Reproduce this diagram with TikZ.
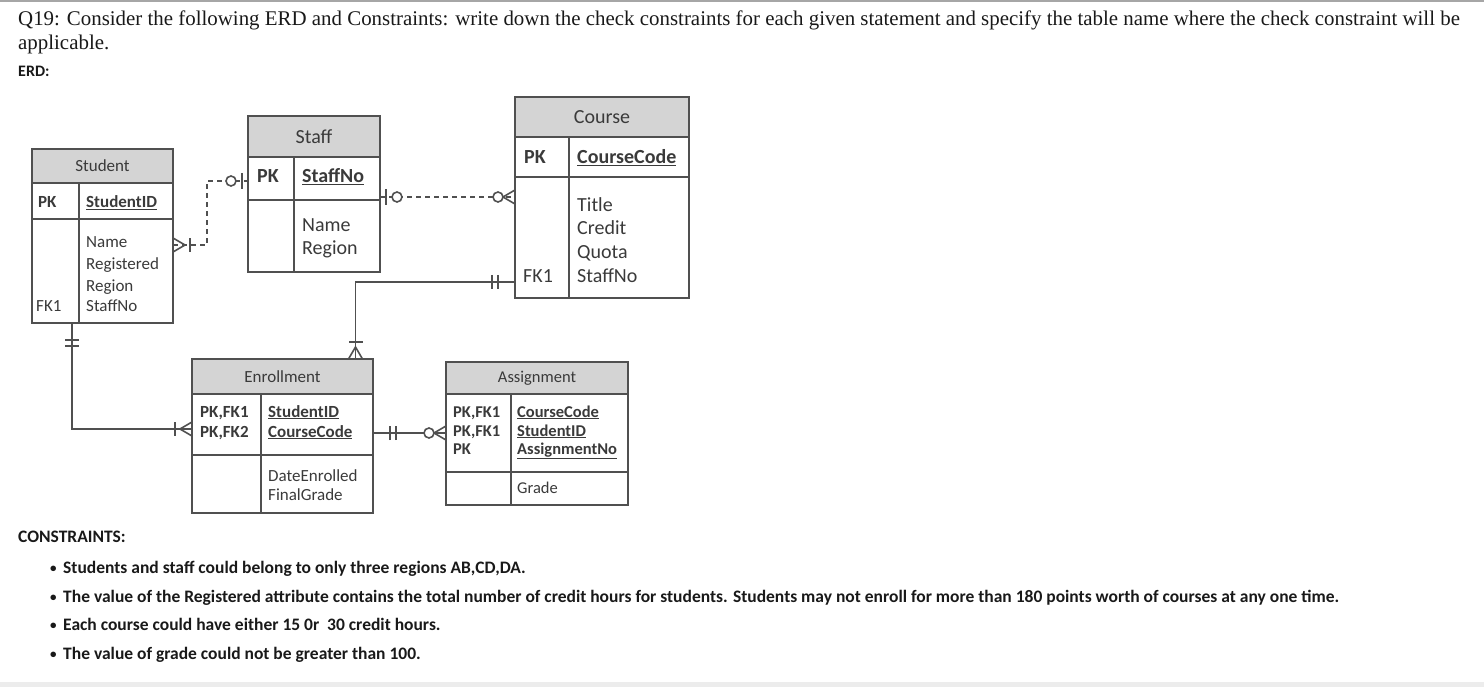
\documentclass[tikz,border=0pt]{standalone}
\usepackage{fontspec}
\setmainfont{Liberation Serif}
\newfontfamily\erdfont{Carlito}
\definecolor{lineg}{HTML}{505050}
\definecolor{hdrg}{HTML}{D4D4D4}
\definecolor{txtg}{HTML}{3A3A3A}
\newcommand\erdsize[1]{\erdfont\fontsize{#1}{#1}\selectfont}
\begin{document}
\begin{tikzpicture}[x=1pt, y=-1pt,
    cell/.style={draw=lineg, line width=1.6pt, inner sep=0pt, outer sep=0pt, anchor=north west},
    hdr/.style={cell, fill=hdrg, text=txtg},
    lbl/.style={anchor=base west, inner sep=0pt, text=txtg},
    txt/.style={anchor=base west, inner sep=0pt, text=black!90},
    conn/.style={draw=lineg, line width=1.6pt},
    dconn/.style={conn, dash pattern=on 5pt off 4pt},
    onemany/.pic={\draw[conn] (0,-7) -- (-12,0) -- (0,7); \draw[conn] (-17,-7) -- (-17,7);},
    zeromany/.pic={\draw[conn] (0,-7) -- (-12,0) -- (0,7); \draw[conn, fill=white] (-17,0) circle (5pt);},
    onlyone/.pic={\draw[conn] (-17,-7) -- (-17,7); \draw[conn] (-23,-7) -- (-23,7);},
    zeroone/.pic={\draw[conn] (-6,-8) -- (-6,8); \draw[conn, fill=white] (-17,0) circle (5pt);}
]
\useasboundingbox (0,0) rectangle (1484,687);
\draw[gray!70, line width=1.5pt] (0,1) -- (1484,1);
\fill[gray!15] (0,682) rectangle (1484,687);

% Question
\node[txt, font=\fontsize{20.9}{25}\selectfont] (q1) at (18,26) {Q19: Consider the following ERD and Constraints: write down the check constraints for each given statement and specify the table name where the check constraint will be};
\node[txt, font=\fontsize{20.9}{25}\selectfont] (q2) at (18,50) {applicable.};
\node[txt, font=\erdsize{16}\bfseries] (erd) at (18,77) {ERD:};

% Student
\node[hdr, minimum width=141pt, minimum height=34pt, font=\erdsize{17}] (student-h) at (32,149) {Student};
\node[cell, minimum width=141pt, minimum height=36pt] (student-pk) at (student-h.south west) {};
\node[cell, minimum width=141pt, minimum height=104pt] (student-at) at (student-pk.south west) {};
\draw[conn] ([xshift=47pt]student-pk.north west) -- ([xshift=47pt]student-at.south west);
\node[lbl, font=\erdsize{17}\bfseries] (student-k1) at (38,208) {PK};
\node[lbl, font=\erdsize{17}\bfseries] (student-a1) at (86,208) {\underline{StudentID}};
\node[lbl, font=\erdsize{17}] (student-a2) at (86,248) {Name};
\node[lbl, font=\erdsize{17}] (student-a3) at (86,270) {Registered};
\node[lbl, font=\erdsize{17}] (student-a4) at (86,291) {Region};
\node[lbl, font=\erdsize{17}] (student-a5) at (86,312) {StaffNo};
\node[lbl, font=\erdsize{17}] (student-k2) at (36,312) {FK1};

% Staff
\node[hdr, minimum width=132pt, minimum height=41pt, font=\erdsize{20}] (staff-h) at (248,116) {Staff};
\node[cell, minimum width=132pt, minimum height=43pt] (staff-pk) at (staff-h.south west) {};
\node[cell, minimum width=132pt, minimum height=72pt] (staff-at) at (staff-pk.south west) {};
\draw[conn] ([xshift=46pt]staff-pk.north west) -- ([xshift=46pt]staff-at.south west);
\node[lbl, font=\erdsize{20}\bfseries] (staff-k1) at (257,183) {PK};
\node[lbl, font=\erdsize{20}\bfseries] (staff-a1) at (302,183) {\underline{StaffNo}};
\node[lbl, font=\erdsize{20}] (staff-a2) at (302,232) {Name};
\node[lbl, font=\erdsize{20}] (staff-a3) at (302,255) {Region};

% Course
\node[hdr, minimum width=174pt, minimum height=40pt, font=\erdsize{20}] (course-h) at (515,97) {Course};
\node[cell, minimum width=174pt, minimum height=40pt] (course-pk) at (course-h.south west) {};
\node[cell, minimum width=174pt, minimum height=121pt] (course-at) at (course-pk.south west) {};
\draw[conn] ([xshift=54pt]course-pk.north west) -- ([xshift=54pt]course-at.south west);
\node[lbl, font=\erdsize{20}\bfseries] (course-k1) at (524,164) {PK};
\node[lbl, font=\erdsize{20}\bfseries] (course-a1) at (577,164) {\underline{CourseCode}};
\node[lbl, font=\erdsize{20}] (course-a2) at (577,212) {Title};
\node[lbl, font=\erdsize{20}] (course-a3) at (577,235) {Credit};
\node[lbl, font=\erdsize{20}] (course-a4) at (577,259) {Quota};
\node[lbl, font=\erdsize{20}] (course-a5) at (577,283) {StaffNo};
\node[lbl, font=\erdsize{20}] (course-k2) at (523,283) {FK1};

% Enrollment
\node[hdr, minimum width=181pt, minimum height=35pt, font=\erdsize{17}] (enrol-h) at (192,359) {Enrollment};
\node[cell, minimum width=181pt, minimum height=61pt] (enrol-pk) at (enrol-h.south west) {};
\node[cell, minimum width=181pt, minimum height=58pt] (enrol-at) at (enrol-pk.south west) {};
\draw[conn] ([xshift=69pt]enrol-pk.north west) -- ([xshift=69pt]enrol-at.south west);
\node[lbl, font=\erdsize{17}\bfseries] (enrol-k1) at (200,417) {PK,FK1};
\node[lbl, font=\erdsize{17}\bfseries] (enrol-k2) at (200,437) {PK,FK2};
\node[lbl, font=\erdsize{17}\bfseries] (enrol-a1) at (268,417) {\underline{StudentID}};
\node[lbl, font=\erdsize{17}\bfseries] (enrol-a2) at (268,437) {\underline{CourseCode}};
\node[lbl, font=\erdsize{17}] (enrol-a3) at (268,481) {DateEnrolled};
\node[lbl, font=\erdsize{17}] (enrol-a4) at (268,500) {FinalGrade};

% Assignment
\node[hdr, minimum width=182pt, minimum height=32pt, font=\erdsize{16.5}] (assign-h) at (446,362) {Assignment};
\node[cell, minimum width=182pt, minimum height=78pt] (assign-pk) at (assign-h.south west) {};
\node[cell, minimum width=182pt, minimum height=33pt] (assign-at) at (assign-pk.south west) {};
\draw[conn] ([xshift=65pt]assign-pk.north west) -- ([xshift=65pt]assign-at.south west);
\node[lbl, font=\erdsize{16.5}\bfseries] (assign-k1) at (453,417) {PK,FK1};
\node[lbl, font=\erdsize{16.5}\bfseries] (assign-k2) at (453,436) {PK,FK1};
\node[lbl, font=\erdsize{16.5}\bfseries] (assign-k3) at (453,454) {PK};
\node[lbl, font=\erdsize{16.5}\bfseries] (assign-a1) at (517,417) {\underline{CourseCode}};
\node[lbl, font=\erdsize{16.5}\bfseries] (assign-a2) at (517,436) {\underline{StudentID}};
\node[lbl, font=\erdsize{16.5}\bfseries] (assign-a3) at (517,454) {\underline{AssignmentNo}};
\node[lbl, font=\erdsize{16.5}] (assign-a4) at (517,493) {Grade};

% Connectors
\draw[dconn] ([yshift=-26pt]student-at.north east) coordinate (ss1) -- ++(34,0) |- ([yshift=-2.5pt]staff-pk.west) coordinate (ss2);
\pic[rotate=180] at (ss1) {onemany};
\pic at (ss2) {zeroone};
\draw[dconn] ([yshift=3pt]staff-pk.south east) coordinate (sc1) -- (sc1 -| course-at.west) coordinate (sc2);
\pic[rotate=180] at (sc1) {zeroone};
\pic at (sc2) {zeromany};
\draw[conn] ([yshift=16pt]course-at.south west) coordinate (ce1) -| ([xshift=73pt]enrol-h.north) coordinate (ce2);
\pic at (ce1) {onlyone};
\pic[rotate=-90] at (ce2) {onemany};
\draw[conn] ([xshift=40pt]student-at.south west) coordinate (se1) |- ([yshift=-4.5pt]enrol-pk.west) coordinate (se2);
\pic[rotate=90] at (se1) {onlyone};
\pic at (se2) {onemany};
\draw[conn] ([yshift=-8.5pt]enrol-pk.east) coordinate (ea1) -- (ea1 -| assign-pk.west) coordinate (ea2);
\pic[rotate=180] at (ea1) {onlyone};
\pic at (ea2) {zeromany};

% Constraints
\node[txt, font=\erdsize{17.5}\bfseries] (cons) at (18,542) {CONSTRAINTS:};
\node[txt, font=\erdsize{13}\bfseries] (b1) at (50,572) {\textbullet};
\node[txt, font=\erdsize{17.5}\bfseries] (c1) at (63,573) {Students and staff could belong to only three regions AB,CD,DA.};
\node[txt, font=\erdsize{13}\bfseries] (b2) at (50,601) {\textbullet};
\node[txt, font=\erdsize{17.5}\bfseries] (c2) at (63,602) {The value of the Registered attribute contains the total number of credit hours for students. Students may not enroll for more than 180 points worth of courses at any one time.};
\node[txt, font=\erdsize{13}\bfseries] (b3) at (50,629) {\textbullet};
\node[txt, font=\erdsize{17.5}\bfseries] (c3) at (63,630) {Each course could have either 15 0r\ \ 30 credit hours.};
\node[txt, font=\erdsize{13}\bfseries] (b4) at (50,658) {\textbullet};
\node[txt, font=\erdsize{17.5}\bfseries] (c4) at (63,659) {The value of grade could not be greater than 100.};
\end{tikzpicture}
\end{document}
